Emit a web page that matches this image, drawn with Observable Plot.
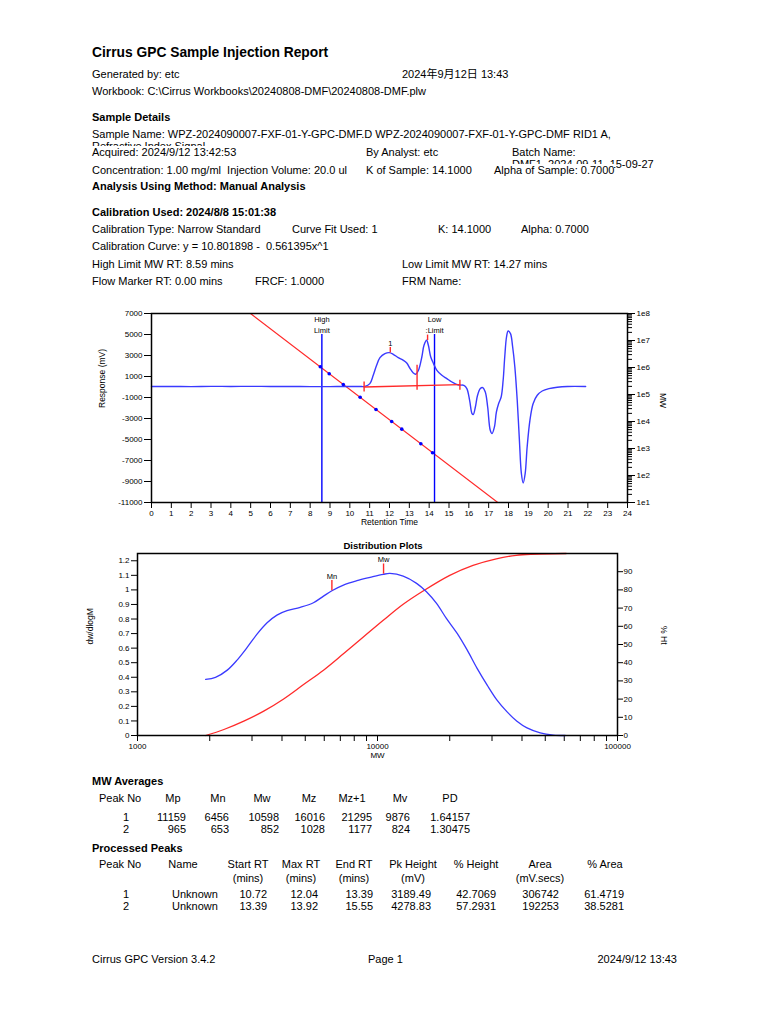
<!DOCTYPE html>
<html><head><meta charset="utf-8">
<script src="https://cdn.jsdelivr.net/npm/d3@7"></script>
<script src="https://cdn.jsdelivr.net/npm/@observablehq/plot@0.6"></script>
<style>
body{margin:0;background:#fff;}
#page{position:relative;width:768px;height:1024px;font-family:"Liberation Sans",Arial,"Noto Sans CJK SC",sans-serif;font-size:11px;color:#000;overflow:hidden;background:#fff;}
.t{position:absolute;white-space:pre;line-height:13px;}
.w{background:#fff;}
.b{font-weight:bold;}
.chart{position:absolute;left:0;}
</style></head><body><div id="page"></div>
<script>
// ---------------- data ----------------
// chromatogram (retention time min, response mV)
const chromT = [0,1,2,3,4,5,6,7,8,9,10,10.5,10.76,11.01,11.18,11.35,11.52,11.77,11.99,12.19,12.44,12.70,12.87,13.04,13.20,13.32,13.46,13.63,13.74,13.87,13.96,14.08,14.22,14.39,14.64,14.89,15.15,15.48,15.75,15.90,16.04,16.16,16.22,16.33,16.44,16.58,16.70,16.83,16.95,17.08,17.17,17.29,17.39,17.50,17.63,17.73,17.81,17.90,17.98,18.10,18.21,18.32,18.44,18.55,18.65,18.74,18.84,18.94,19.08,19.24,19.45,19.70,20.04,20.46,20.97,21.89];
const chromV = [50,50,40,60,50,60,50,50,40,40,50,50,60,321,1114,2067,2800,3180,3276,3114,2800,2543,2286,1752,1333,1210,1590,2857,3971,4450,3971,2857,2229,1590,1114,800,476,190,160,-152,-1267,-2533,-2630,-1905,-790,-152,-57,-476,-1905,-4124,-4440,-3810,-2381,-1590,-952,638,2857,4762,5333,5080,3810,1905,-1267,-5080,-8250,-9140,-8250,-5714,-3175,-1590,-790,-381,-152,-20,50,50];
// calibration standards (RT, MW)
const stdRT = [8.51,8.96,9.67,10.52,11.32,12.11,12.62,13.58,14.17];
const stdMW = [1060000,590000,236000,79000,28000,10000,5200,1500,700];
// calibration curve log10(MW) = calA - calB * RT
const calA = 10.801898, calB = 0.561395;
const highLimitRT = 8.59, lowLimitRT = 14.27;
const limitTopMv = 5000;
const limitLabels = ["High\nLimit", "Low\n:Limit"];
// peaks
const peakNo = [1,2];
const peakName = ["Unknown","Unknown"];
const startRT = [10.72,13.39];
const maxRT = [12.04,13.92];
const endRT = [13.39,15.55];
const pkHeight = ["3189.49","4278.83"];
const pctHeight = ["42.7069","57.2931"];
const area = ["306742","192253"];
const pctArea = ["61.4719","38.5281"];
const peakBaseMv = [0, 220];            // baseline at 10.72 and 15.55
const boundLowMv = [-476,-314,-314];    // boundary tick bottoms
const boundHighMv = [476,2067,638];     // boundary tick tops
// MW averages
const Mp = [11159,965], Mn = [6456,653], Mw = [10598,852], Mz = [16016,1028], Mz1 = [21295,1177], Mv = [9876,824], PD = ["1.64157","1.30475"];
// distribution plot
const distMW = [1923,2113,2366,2600,2864,3148,3467,3811,4198,4764,5408,5957,6457,7211,8204,9311,10568,11272,12794,14555,15996,17620,19364,21478,23659,26002,28642,31477,34674,38107,41976,47643,54075,60534];
const distW = [0.385,0.399,0.449,0.518,0.605,0.696,0.774,0.827,0.857,0.880,0.912,0.957,0.994,1.033,1.063,1.086,1.107,1.113,1.095,1.045,0.987,0.907,0.804,0.701,0.586,0.461,0.346,0.243,0.162,0.098,0.052,0.018,0.003,0];
const cumMW = [1923,2291,2773,3357,4064,4920,5957,7211,8730,10568,12794,15488,20000,25003,31261,37844,43652,61094];
const cumPct = [0,3.3,7.9,13.4,20.1,28.0,35.9,44.9,54.1,63.3,72.1,79.4,88.0,93.5,97.1,99.0,99.6,100];
const markLabel = ["Mn","Mw"];
const markMW = [6456,10598];
const markW = [0.994,1.108];
const yTicks = [7000,5000,3000,1000,-1000,-3000,-5000,-7000,-9000,-11000];
const mwDecades = [1,2,3,4,5,6,7,8];

// ---------------- page text ----------------
const page = document.getElementById("page");
function put(txt, x, yc, cls="", align="left", size=null){
  const d = document.createElement("div");
  d.className = "t " + cls;
  d.textContent = txt;
  d.style.left = x + "px";
  d.style.top = (yc - 6.5) + "px";
  if (size) d.style.fontSize = size + "px";
  if (align === "right") d.style.transform = "translateX(-100%)";
  if (align === "center") d.style.transform = "translateX(-50%)";
  page.appendChild(d);
  return d;
}
put("Cirrus GPC Sample Injection Report", 92, 52, "b", "left", 13.8);
put("Generated by: etc", 92, 74);
put("2024年9月12日 13:43", 402, 74);
put("Workbook: C:\\Cirrus Workbooks\\20240808-DMF\\20240808-DMF.plw", 92, 91);
put("Sample Details", 92, 117, "b");
put("Sample Name: WPZ-2024090007-FXF-01-Y-GPC-DMF.D WPZ-2024090007-FXF-01-Y-GPC-DMF RID1 A,", 92, 134);
put("Refractive Index Signal", 92, 146);
put("Acquired: 2024/9/12 13:42:53", 92, 152, "w");
put("By Analyst: etc", 366, 152, "w");
put("Batch Name:", 512, 152, "w");
put("DMF1_2024-09-11_15-09-27", 512, 164);
put("Concentration: 1.00 mg/ml  Injection Volume: 20.0 ul", 92, 170, "w");
put("K of Sample: 14.1000", 366, 170, "w");
put("Alpha of Sample: 0.7000", 494, 170, "w");
put("Analysis Using Method: Manual Analysis", 92, 186, "b");
put("Calibration Used: 2024/8/8 15:01:38", 92, 212, "b");
put("Calibration Type: Narrow Standard", 92, 229);
put("Curve Fit Used: 1", 292, 229);
put("K: 14.1000", 438, 229);
put("Alpha: 0.7000", 521, 229);
put("Calibration Curve: y = 10.801898 -  0.561395x^1", 92, 246);
put("High Limit MW RT: 8.59 mins", 92, 264);
put("Low Limit MW RT: 14.27 mins", 402, 264);
put("Flow Marker RT: 0.00 mins", 92, 281);
put("FRCF: 1.0000", 255, 281);
put("FRM Name:", 402, 281);

// MW averages table
put("MW Averages", 92, 781, "b");
const mwHead = ["Mp","Mn","Mw","Mz","Mz+1","Mv","PD"];
const mwHeadX = [173,218,262,309,352,400,450];
const mwValX = [186,229,279,325,372,410,470];
const mwCols = [Mp,Mn,Mw,Mz,Mz1,Mv,PD];
put("Peak No", 99, 798);
mwHead.forEach((h,i)=>put(h, mwHeadX[i], 798, "", "center"));
peakNo.forEach((p,r)=>{
  const y = 817 + r*12.5;
  put(String(p), 129, y, "", "right");
  mwCols.forEach((c,i)=>put(String(c[r]), mwValX[i], y, "", "right"));
});
// Processed peaks table
put("Processed Peaks", 92, 848, "b");
put("Peak No", 99, 864);
put("Name", 183, 864, "", "center");
const ppHead = [["Start RT","(mins)"],["Max RT","(mins)"],["End RT","(mins)"],["Pk Height","(mV)"],["% Height",""],["Area","(mV.secs)"],["% Area",""]];
const ppHeadX = [248,301,354,413,476,540,605];
const ppValX = [267,318,373,431,496,559,624];
const ppCols = [startRT.map(d=>d.toFixed(2)),maxRT.map(d=>d.toFixed(2)),endRT.map(d=>d.toFixed(2)),pkHeight,pctHeight,area,pctArea];
ppHead.forEach((h,i)=>{put(h[0], ppHeadX[i], 864, "", "center"); if(h[1]) put(h[1], ppHeadX[i], 878, "", "center");});
peakNo.forEach((p,r)=>{
  const y = 894 + r*12.5;
  put(String(p), 129, y, "", "right");
  put(peakName[r], 172, y);
  ppCols.forEach((c,i)=>put(c[r], ppValX[i], y, "", "right"));
});
// footer
put("Cirrus GPC Version 3.4.2", 92, 959);
put("Page 1", 368, 959);
put("2024/9/12 13:43", 677, 959, "", "right");

// ---------------- chart 1: chromatogram + calibration ----------------
const blue = "#3a3aff", red = "#ff2a2a", font = "Liberation Sans, Arial, sans-serif";
const mvMin = -11000, mvMax = 7000, logMin = 1, logMax = 8;
const logToMv = l => mvMin + (l - logMin) / (logMax - logMin) * (mvMax - mvMin);
const mwToMv = mw => logToMv(Math.log10(mw));
const chrom = chromT.map((t,i)=>({t, v: chromV[i]}));
const stds = stdRT.map((t,i)=>({t, v: mwToMv(stdMW[i])}));
const calLine = [0,24].map(t => ({t, v: logToMv(calA - calB*t)}));
const decadeMv = mwDecades.map(logToMv);
const minorMv = [];
for (const d of mwDecades.slice(0,-1)) for (let k=2;k<=9;k++) minorMv.push(mwToMv(k*Math.pow(10,d)));
const baseFn = t => peakBaseMv[0] + (t - startRT[0])/(endRT[1]-startRT[0])*(peakBaseMv[1]-peakBaseMv[0]);
const bounds = [startRT[0], endRT[0], endRT[1]].map((t,i)=>({t, v1: boundLowMv[i], v2: boundHighMv[i]}));
const tops = maxRT.map((t,i)=>({t, v1: +pkHeight[i] + baseFn(t), v2: +pkHeight[i] + baseFn(t) + 520}));

const chart1 = Plot.plot({
  width: 768, height: 232,
  marginLeft: 151, marginRight: 141, marginTop: 13, marginBottom: 30,
  style: {fontFamily: font, fontSize: "8px", background: "transparent", overflow: "visible"},
  x: {domain: [0,24]},
  y: {domain: [mvMin, mvMax]},
  marks: [
    Plot.axisX({ticks: d3.range(0,25), tickFormat: d=>String(d), tickSize: 6, tickPadding: 2, label: null}),
    Plot.axisY({ticks: yTicks, tickFormat: d=>String(d), tickSize: 7, tickPadding: 2, label: null}),
    Plot.axisY({anchor: "right", ticks: decadeMv, tickFormat: d=>"1e"+Math.round(logMin + (d-mvMin)*(logMax-logMin)/(mvMax-mvMin)), tickSize: 7, tickPadding: 2, label: null}),
    Plot.axisY({anchor: "right", ticks: minorMv, tickFormat: ()=>"", tickSize: 4, label: null}),
    Plot.line(calLine, {x: "t", y: "v", stroke: red, strokeWidth: 1.2, clip: true}),
    Plot.ruleX([highLimitRT, lowLimitRT], {y1: mvMin, y2: limitTopMv, stroke: "#0000ff", strokeWidth: 1.4}),
    Plot.text([highLimitRT, lowLimitRT].map((t,i)=>({t, l: limitLabels[i]})), {x: "t", y: limitTopMv, text: "l", lineAnchor: "bottom", dy: -2, lineHeight: 1.45, fontSize: 7.5}),
    Plot.line(chrom, {x: "t", y: "v", stroke: blue, strokeWidth: 1.4, curve: "catmull-rom"}),
    Plot.line([startRT[0], endRT[1]].map(t=>({t, v: baseFn(t)})), {x: "t", y: "v", stroke: red, strokeWidth: 1.3}),
    Plot.ruleX(bounds, {x: "t", y1: "v1", y2: "v2", stroke: red, strokeWidth: 1.4}),
    Plot.ruleX(tops, {x: "t", y1: "v1", y2: "v2", stroke: red, strokeWidth: 1.4}),
    Plot.text([tops[0]], {x: "t", y: "v2", text: ()=>String(peakNo[0]), lineAnchor: "bottom", dy: -1, fontSize: 7.5}),
    Plot.dot(stds, {x: "t", y: "v", r: 1.8, fill: "#0000ff"}),
    Plot.frame({stroke: "#000", strokeWidth: 1.5}),
    Plot.text(["Retention Time"], {frameAnchor: "bottom", dy: 22, fontSize: 8.5}),
    Plot.text(["Response (mV)"], {frameAnchor: "left", dx: -49, rotate: -90, fontSize: 8.5}),
    Plot.text(["MW"], {frameAnchor: "right", dx: 35, rotate: 90, fontSize: 8.5})
  ]
});
chart1.classList.add("chart");
chart1.style.top = "300px";
page.appendChild(chart1);

// ---------------- chart 2: distribution plots ----------------
const wMax = 1.25;
const dist = distMW.map((m,i)=>({m, w: distW[i]}));
const cum = cumMW.map((m,i)=>({m, w: cumPct[i]/100*wMax}));
const marks2 = markMW.map((m,i)=>({m, w1: markW[i], w2: markW[i]+0.07, l: markLabel[i]}));
const minorX = [];
for (const d of [3,4]) for (let k=2;k<=9;k++) minorX.push(k*Math.pow(10,d));
put("Distribution Plots", 383, 545, "b", "center", 9.5);
const chart2 = Plot.plot({
  width: 768, height: 225,
  marginLeft: 137, marginRight: 151, marginTop: 13, marginBottom: 30,
  style: {fontFamily: font, fontSize: "8px", background: "transparent", overflow: "visible"},
  x: {type: "log", domain: [1000, 100000]},
  y: {domain: [0, wMax]},
  marks: [
    Plot.axisX({ticks: [1000,10000,100000], tickFormat: d=>String(d), tickSize: 6, tickPadding: 2, label: null}),
    Plot.axisX({ticks: minorX, tickFormat: ()=>"", tickSize: 6, label: null}),
    Plot.axisY({ticks: d3.range(0,13).map(i=>i/10), tickFormat: d=>String(Math.round(d*10)/10), tickSize: 6, tickPadding: 2, label: null}),
    Plot.axisY({anchor: "right", ticks: d3.range(0,10).map(i=>i*10/100*wMax), tickFormat: d=>String(Math.round(d/wMax*100)), tickSize: 5, tickPadding: 1, label: null}),
    Plot.line(cum, {x: "m", y: "w", stroke: red, strokeWidth: 1.3, curve: "catmull-rom"}),
    Plot.line(dist, {x: "m", y: "w", stroke: blue, strokeWidth: 1.3, curve: "catmull-rom"}),
    Plot.ruleX(marks2, {x: "m", y1: "w1", y2: "w2", stroke: red, strokeWidth: 1.4}),
    Plot.text(marks2, {x: "m", y: "w2", text: "l", lineAnchor: "bottom", dy: -2, fontSize: 7.5}),
    Plot.frame({stroke: "#000", strokeWidth: 1.5}),
    Plot.text(["MW"], {frameAnchor: "bottom", dy: 22, fontSize: 8}),
    Plot.text(["dw/dlogM"], {frameAnchor: "left", dx: -47, rotate: -90, fontSize: 8.5}),
    Plot.text(["% Ht"], {frameAnchor: "right", dx: 46, rotate: 90, fontSize: 8.5})
  ]
});
chart2.classList.add("chart");
chart2.style.top = "540px";
page.appendChild(chart2);
</script></body></html>
